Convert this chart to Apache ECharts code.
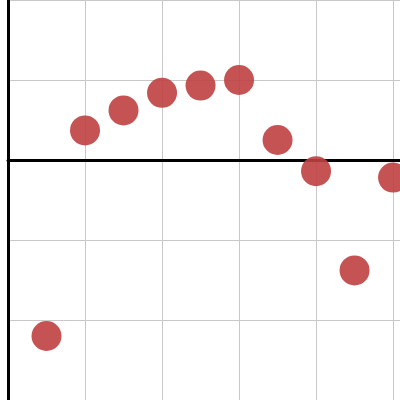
<!DOCTYPE html>
<html>
<head>
<meta charset="utf-8">
<script src="https://cdn.jsdelivr.net/npm/echarts@6/dist/echarts.min.js"></script>
<style>html,body{margin:0;padding:0;background:#fff}#chart{width:400px;height:400px}</style>
</head>
<body>
<div id="chart"></div>
<script>
var xValues = [0.5, 1, 1.5, 2, 2.5, 3, 3.5, 4, 4.5, 5];
var yValues = [-2.2, 0.37, 0.62, 0.84, 0.93, 1.0, 0.25, -0.14, -1.38, -0.22];

var points = [];
for (var i = 0; i < xValues.length; i++) {
    points.push([xValues[i], yValues[i]]);
}
var myChart = echarts.init(document.getElementById('chart'));
var option = {
    animation: false,
    grid: { left: 8, right: 0, top: -2, bottom: 0 },
    xAxis: {
        type: 'value', min: 0, max: 5.09, interval: 1,
        axisLine: { onZero: true, lineStyle: { color: '#000', width: 3 } },
        axisTick: { show: false },
        axisLabel: { show: false },
        splitLine: { lineStyle: { color: '#c8c8c8', width: 1 } }
    },
    yAxis: {
        type: 'value', min: -3, max: 2, interval: 1,
        axisLine: { show: true, onZero: true, lineStyle: { color: '#000', width: 3 } },
        axisTick: { show: false },
        axisLabel: { show: false },
        splitLine: { lineStyle: { color: '#c8c8c8', width: 1 } }
    },
    series: [{
        type: 'scatter',
        symbolSize: 30,
        itemStyle: { color: '#bf4040', opacity: 0.9 },
        data: points
    }]
};
myChart.setOption(option);
</script>
</body>
</html>
